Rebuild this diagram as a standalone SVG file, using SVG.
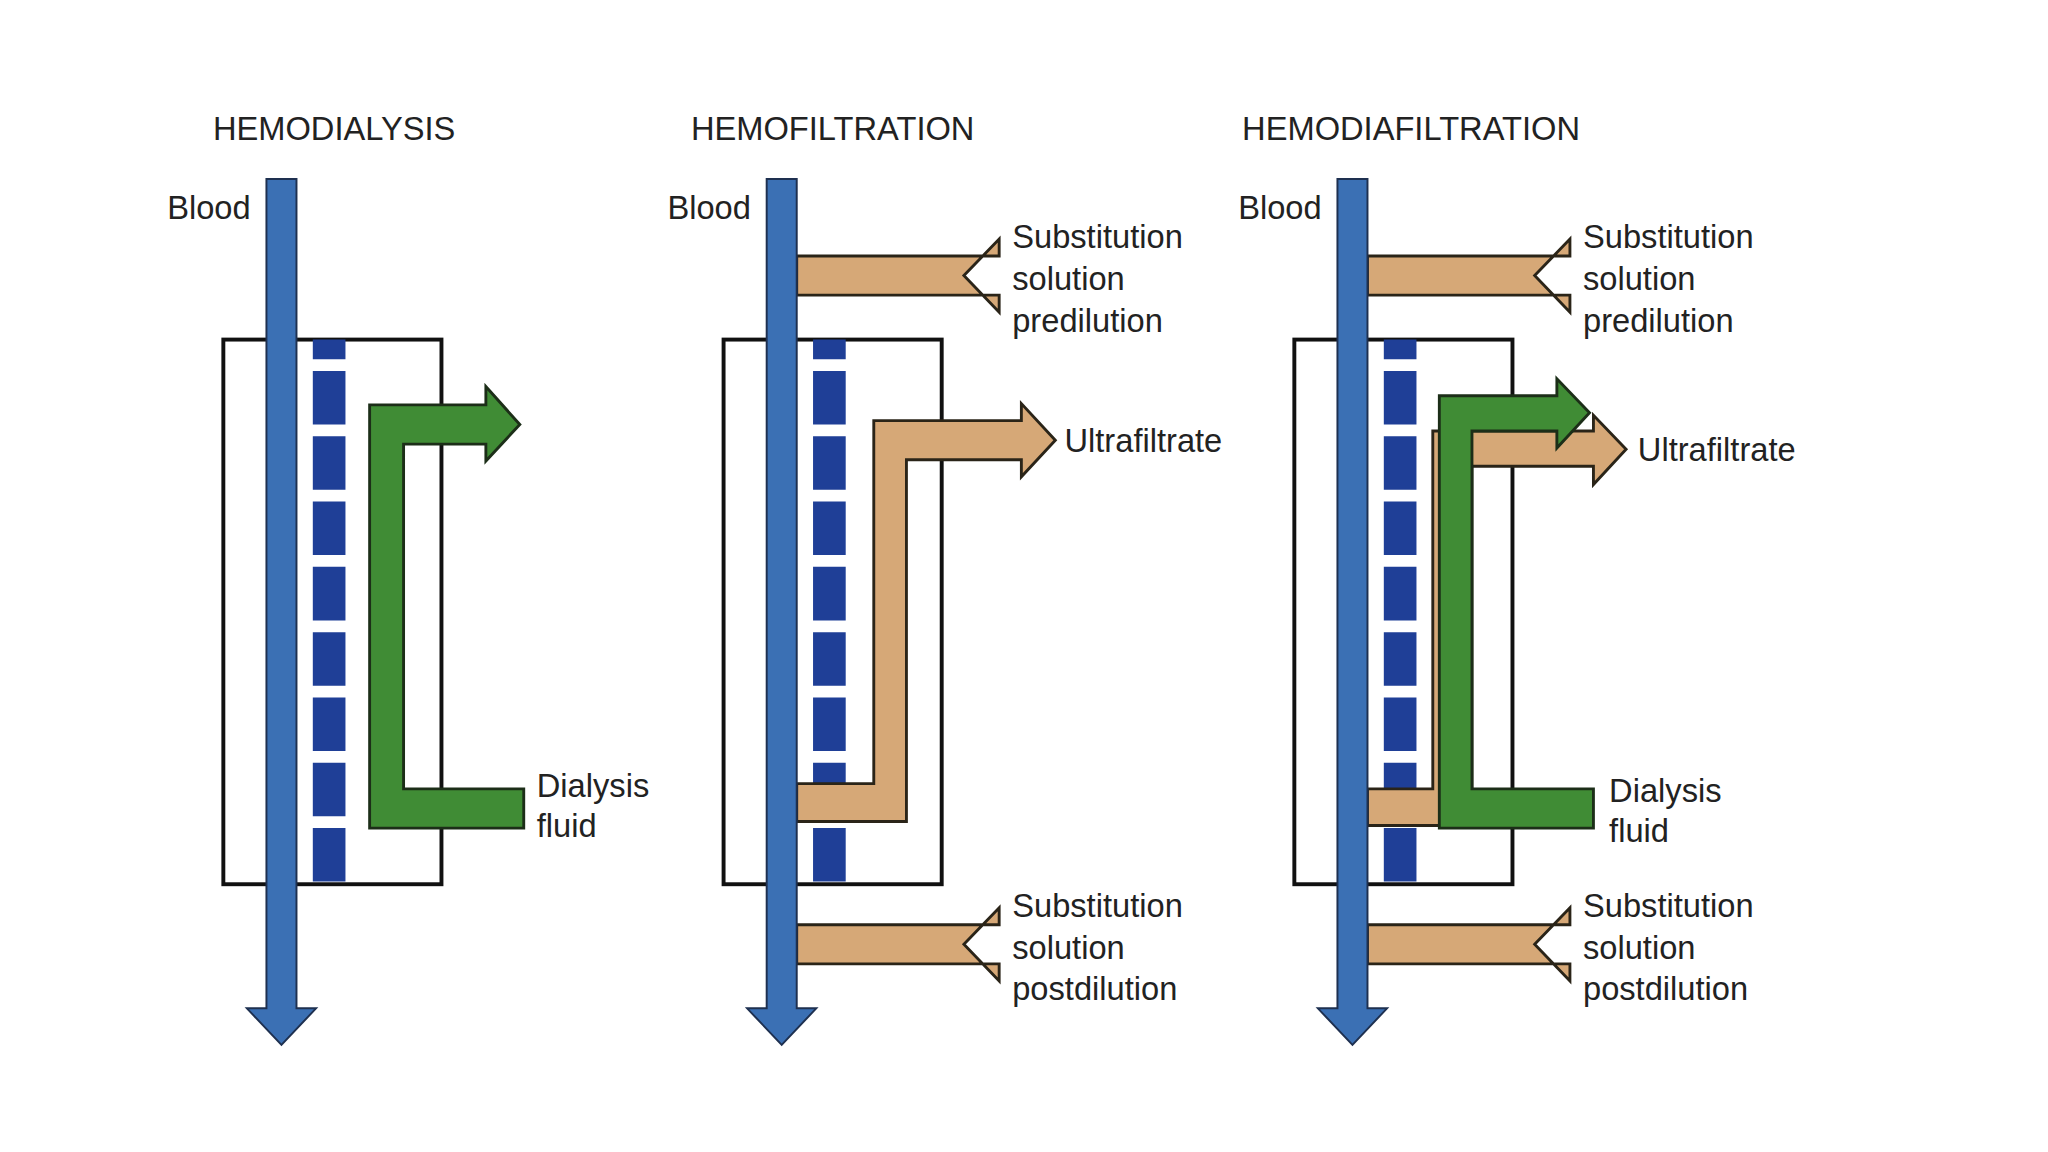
<svg xmlns="http://www.w3.org/2000/svg" width="2048" height="1152" viewBox="0 0 2048 1152">
<style>
text{font-family:"Liberation Sans",Arial,sans-serif;fill:#222;font-size:25px}
.box{fill:#fff;stroke:#111;stroke-width:3}
.mem{stroke:#1f3f97;stroke-width:25;stroke-dasharray:41 9;stroke-dashoffset:26}
.blood{fill:#3b70b4;stroke:#1e3050;stroke-width:1.5}
.tan{fill:#d6a877;stroke:#2a2418;stroke-width:2.2}
.green{fill:#408c35;stroke:#1c2e18;stroke-width:2.2}
</style>
<rect width="2048" height="1152" fill="#fff"/>
<g transform="scale(1.3061)">
<g id="panel-hemodialysis">
<text x="163" y="107">HEMODIALYSIS</text>
<text x="128" y="168">Blood</text>
<rect class="box" x="171" y="260" width="167" height="417"/>
<line class="mem" x1="252" y1="260" x2="252" y2="677"/>
<path class="green" d="M401,604 H309 V340 H372 V353 L398,325 L372,296 V310 H283 V634 H401 Z"/>
<path class="blood" d="M204,137 H227 V772 H242 L215.5,800 L189,772 H204 Z"/>
<text x="411" y="610">Dialysis</text>
<text x="411" y="641">fluid</text>
</g>
<g id="panel-hemofiltration">
<text x="529" y="107">HEMOFILTRATION</text>
<text x="511" y="168">Blood</text>
<rect class="box" x="554" y="260" width="167" height="417"/>
<line class="mem" x1="635" y1="260" x2="635" y2="677"/>
<path class="tan" d="M610,600 H669 V322 H782 V309 L808,337 L782,365 V352 H694 V629 H610 Z"/>
<path class="tan" d="M610,196 H765 V183 L738,211 L765,239 V226 H610 Z"/>
<path class="tan" d="M610,708 H765 V695 L738,723 L765,751 V738 H610 Z"/>
<path class="blood" d="M587,137 H610 V772 H625 L598.5,800 L572,772 H587 Z"/>
<text x="775" y="190">Substitution</text>
<text x="775" y="222">solution</text>
<text x="775" y="254">predilution</text>
<text x="815" y="346">Ultrafiltrate</text>
<text x="775" y="702">Substitution</text>
<text x="775" y="734">solution</text>
<text x="775" y="766">postdilution</text>
</g>
<g id="panel-hemodiafiltration">
<text x="951" y="107">HEMODIAFILTRATION</text>
<text x="948" y="168">Blood</text>
<rect class="box" x="991" y="260" width="167" height="417"/>
<line class="mem" x1="1072" y1="260" x2="1072" y2="677"/>
<path class="tan" d="M1047,604 H1097 V330 H1220 V318 L1245,344 L1220,371 V357 H1127 V632 H1047 Z"/>
<path class="green" d="M1220,604 H1127 V330 H1192 V343 L1217,316 L1192,290 V303 H1102 V634 H1220 Z"/>
<path class="tan" d="M1047,196 H1202 V183 L1175,211 L1202,239 V226 H1047 Z"/>
<path class="tan" d="M1047,708 H1202 V695 L1175,723 L1202,751 V738 H1047 Z"/>
<path class="blood" d="M1024,137 H1047 V772 H1062 L1035.5,800 L1009,772 H1024 Z"/>
<text x="1212" y="190">Substitution</text>
<text x="1212" y="222">solution</text>
<text x="1212" y="254">predilution</text>
<text x="1254" y="353">Ultrafiltrate</text>
<text x="1232" y="614">Dialysis</text>
<text x="1232" y="645">fluid</text>
<text x="1212" y="702">Substitution</text>
<text x="1212" y="734">solution</text>
<text x="1212" y="766">postdilution</text>
</g>
</g>
</svg>
